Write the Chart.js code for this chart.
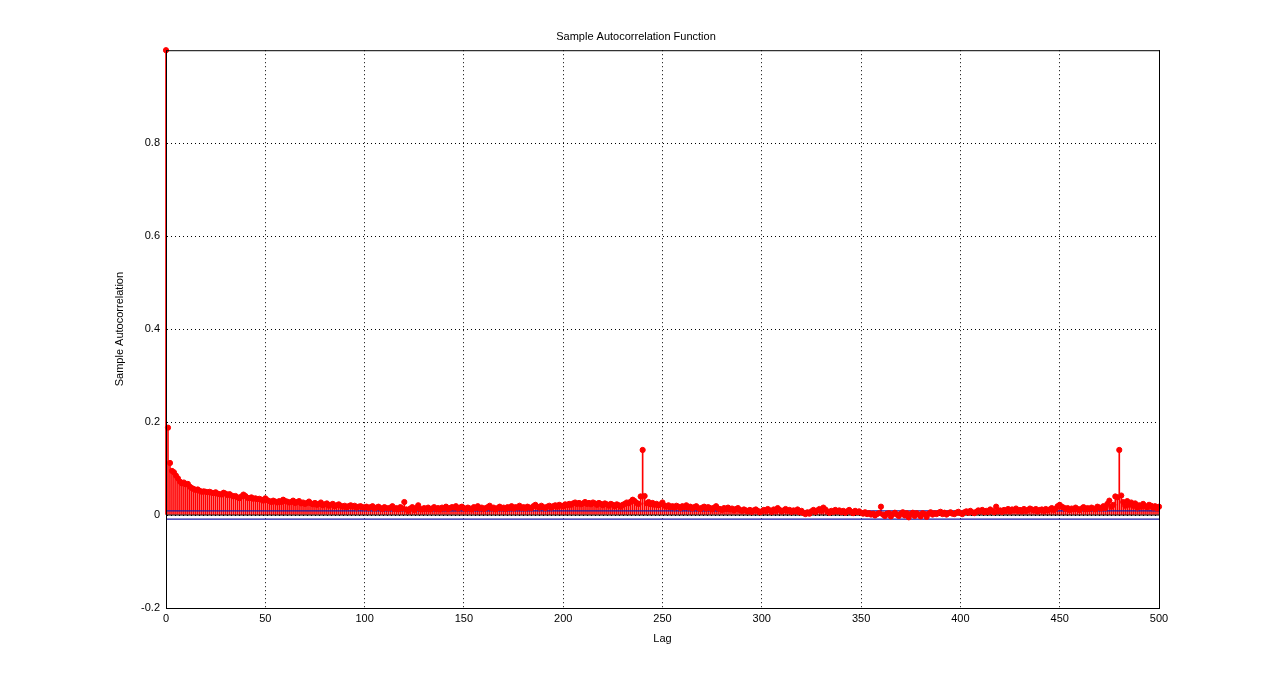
<!DOCTYPE html>
<html>
<head>
<meta charset="utf-8">
<script src="https://cdn.jsdelivr.net/npm/chart.js@4"></script>
<style>
  html, body { margin: 0; padding: 0; background: #fff; }
  #wrap { width: 1280px; height: 683px; }
</style>
</head>
<body>
<div id="wrap"><canvas id="acf"></canvas></div>
<script>
// sample autocorrelation, lags 0..500
const acfValues = [
  1,0.188,0.112,0.095,0.092,0.085,0.079,0.072,0.068,0.07,
  0.066,0.067,0.061,0.058,0.056,0.054,0.055,0.052,0.05,0.051,
  0.05,0.049,0.05,0.048,0.047,0.049,0.046,0.045,0.044,0.048,
  0.046,0.043,0.045,0.042,0.04,0.041,0.038,0.036,0.04,0.044,
  0.041,0.037,0.036,0.038,0.035,0.036,0.034,0.035,0.033,0.031,
  0.036,0.032,0.03,0.028,0.031,0.029,0.027,0.03,0.028,0.033,
  0.03,0.029,0.027,0.028,0.031,0.026,0.028,0.03,0.025,0.027,
  0.024,0.026,0.029,0.025,0.023,0.026,0.022,0.024,0.027,0.021,
  0.023,0.025,0.02,0.022,0.024,0.019,0.021,0.023,0.02,0.018,
  0.02,0.017,0.019,0.021,0.018,0.02,0.016,0.018,0.019,0.017,
  0.016,0.018,0.015,0.017,0.019,0.014,0.016,0.018,0.015,0.013,
  0.017,0.015,0.014,0.016,0.019,0.013,0.015,0.012,0.017,0.014,
  0.028,0.012,0.009,0.014,0.017,0.011,0.015,0.021,0.013,0.012,
  0.015,0.013,0.016,0.012,0.014,0.017,0.013,0.015,0.012,0.016,
  0.014,0.018,0.013,0.015,0.017,0.016,0.019,0.014,0.016,0.018,
  0.015,0.013,0.016,0.014,0.012,0.017,0.015,0.019,0.014,0.016,
  0.013,0.015,0.017,0.02,0.014,0.016,0.012,0.015,0.018,0.014,
  0.016,0.013,0.017,0.015,0.019,0.014,0.017,0.016,0.02,0.015,
  0.017,0.014,0.018,0.016,0.015,0.019,0.022,0.018,0.016,0.02,
  0.017,0.015,0.018,0.02,0.016,0.019,0.021,0.018,0.022,0.02,
  0.019,0.023,0.021,0.024,0.022,0.025,0.027,0.024,0.026,0.023,
  0.025,0.028,0.024,0.026,0.023,0.027,0.025,0.022,0.026,0.024,
  0.021,0.025,0.023,0.02,0.024,0.022,0.019,0.023,0.021,0.018,
  0.022,0.024,0.027,0.025,0.029,0.033,0.03,0.026,0.024,0.04,
  0.14,0.041,0.025,0.028,0.023,0.026,0.022,0.024,0.021,0.023,
  0.027,0.02,0.018,0.021,0.017,0.019,0.016,0.02,0.018,0.015,
  0.019,0.017,0.021,0.016,0.018,0.014,0.017,0.019,0.015,0.013,
  0.016,0.018,0.014,0.017,0.015,0.012,0.016,0.019,0.014,0.013,
  0.011,0.015,0.013,0.016,0.012,0.014,0.01,0.013,0.015,0.011,
  0.009,0.012,0.01,0.008,0.011,0.007,0.01,0.012,0.009,0.006,
  0.008,0.011,0.009,0.013,0.01,0.007,0.012,0.009,0.015,0.011,
  0.008,0.01,0.013,0.009,0.011,0.007,0.01,0.008,0.012,0.006,
  0.009,0.004,0.002,0.006,0.003,0.008,0.011,0.007,0.01,0.013,
  0.009,0.016,0.012,0.008,0.005,0.009,0.007,0.011,0.008,0.01,
  0.006,0.009,0.005,0.008,0.011,0.007,0.004,0.009,0.006,0.008,
  0.005,0.003,0.006,0.002,0.004,0.001,0.003,-0.001,0.002,0.004,
  0.018,0.001,-0.002,0.003,0.004,-0.003,0.002,0.005,0.001,-0.002,
  0.003,0.006,-0.001,0.004,-0.005,0.002,0.005,-0.002,0.004,0.001,
  -0.003,0.004,0.002,-0.004,0.003,0.006,0.001,0.004,0.002,0.005,
  0.007,0.002,0.005,0.001,0.004,0.006,0.003,0.002,0.005,0.007,
  0.004,0.002,0.006,0.008,0.005,0.009,0.006,0.004,0.007,0.01,
  0.008,0.011,0.006,0.009,0.007,0.012,0.009,0.006,0.018,0.008,
  0.01,0.007,0.011,0.009,0.013,0.008,0.012,0.01,0.014,0.009,
  0.011,0.008,0.013,0.009,0.011,0.014,0.012,0.01,0.013,0.008,
  0.011,0.012,0.009,0.013,0.01,0.012,0.015,0.011,0.014,0.019,
  0.022,0.018,0.016,0.013,0.015,0.011,0.014,0.012,0.016,0.013,
  0.011,0.014,0.017,0.012,0.015,0.013,0.016,0.014,0.012,0.018,
  0.016,0.014,0.019,0.015,0.024,0.031,0.018,0.022,0.04,0.038,
  0.14,0.042,0.028,0.02,0.03,0.022,0.027,0.02,0.025,0.016,
  0.021,0.018,0.024,0.019,0.017,0.022,0.02,0.016,0.019,0.014,
  0.018
];
const confBound = 0.0088;   // approx. 95% bounds drawn in blue
const yTicks = [-0.2, 0, 0.2, 0.4, 0.6, 0.8];
const xTicks = [0, 50, 100, 150, 200, 250, 300, 350, 400, 450, 500];

const points = acfValues.map((v, i) => ({ x: i, y: v }));
const lastLag = acfValues.length - 1;

// box around the axes, like matlab's "box on"
const boxPlugin = {
  id: 'box',
  afterDraw(chart) {
    const a = chart.chartArea, c = chart.ctx;
    c.save();
    c.strokeStyle = '#000';
    c.lineWidth = 1;
    c.strokeRect(a.left + 0.5, a.top + 0.5, a.right - a.left, a.bottom - a.top);
    c.restore();
  }
};

const font = { family: 'Liberation Sans, Arial, sans-serif', size: 11, weight: 'normal' };

new Chart(document.getElementById('acf'), {
  data: {
    datasets: [
      {
        type: 'scatter',
        data: points,
        pointRadius: 2.6,
        pointBackgroundColor: '#ff0000',
        pointBorderColor: '#ff0000',
        clip: false,
        order: 0
      },
      {
        type: 'bar',
        data: points,
        backgroundColor: '#ff0000',
        barThickness: 1,
        borderWidth: 0,
        clip: false,
        order: 2
      },
      {
        type: 'line',
        data: [{ x: 0, y: confBound }, { x: lastLag, y: confBound }],
        borderColor: '#1a1aa8', borderWidth: 1.3, pointRadius: 0, order: 1
      },
      {
        type: 'line',
        data: [{ x: 0, y: -confBound }, { x: lastLag, y: -confBound }],
        borderColor: '#1a1aa8', borderWidth: 1.3, pointRadius: 0, order: 1
      },
      {
        type: 'line',
        data: [{ x: 0, y: 0 }, { x: lastLag, y: 0 }],
        borderColor: '#000', borderWidth: 1, pointRadius: 0, order: 1
      }
    ]
  },
  options: {
    responsive: true,
    maintainAspectRatio: false,
    animation: false,
    layout: { padding: { top: 0, right: 121, bottom: 37, left: 113 } },
    plugins: {
      legend: { display: false },
      tooltip: { enabled: false },
      title: {
        display: true,
        text: 'Sample Autocorrelation Function',
        color: '#000',
        font: font,
        padding: { top: 30, bottom: 7 }
      }
    },
    scales: {
      x: {
        type: 'linear',
        offset: false,
        min: 0, max: 500,
        afterBuildTicks: s => { s.ticks = xTicks.map(v => ({ value: v })); },
        afterFit: s => { s.height = 38; },
        ticks: { color: '#000', font: font, padding: 4, maxRotation: 0 },
        grid: { offset: false, color: '#000', lineWidth: 1, drawTicks: false },
        border: { display: true, color: '#000', dash: [1, 3] },
        title: { display: true, text: 'Lag', color: '#000', font: font, padding: 0 }
      },
      y: {
        min: -0.2, max: 1,
        afterBuildTicks: s => { s.ticks = yTicks.map(v => ({ value: v })); },
        afterFit: s => { s.width = 53; },
        ticks: {
          color: '#000', font: font, padding: 6,
          callback: v => (Math.abs(v) < 1e-9 ? '0' : String(Math.round(v * 10) / 10))
        },
        grid: { color: '#000', lineWidth: 1, drawTicks: false },
        border: { display: true, color: '#000', dash: [1, 3] },
        title: { display: true, text: 'Sample Autocorrelation', color: '#000', font: font, padding: 0 }
      }
    }
  },
  plugins: [boxPlugin]
});
</script>
</body>
</html>
